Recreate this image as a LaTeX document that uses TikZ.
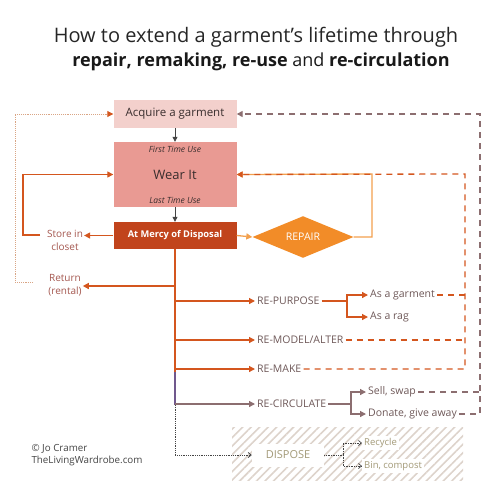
\documentclass[tikz,border=0pt]{standalone}
\usepackage{fontspec}
\setmainfont{Open Sans}
\usetikzlibrary{arrows.meta,shapes.geometric,patterns.meta}
\definecolor{acqfill}{HTML}{F3D0CC}
\definecolor{wearfill}{HTML}{E99A93}
\definecolor{mercyfill}{HTML}{C1441C}
\definecolor{repfill}{HTML}{F28C28}
\definecolor{redline}{HTML}{D4561E}
\definecolor{lorange}{HTML}{F2A04E}
\definecolor{mauve}{HTML}{8C6E70}
\definecolor{lbltext}{HTML}{6E5858}
\definecolor{storetext}{HTML}{A4574F}
\definecolor{boxtext}{HTML}{3A2E2E}
\definecolor{dotcol}{HTML}{D9A585}
\definecolor{hatchcol}{HTML}{DDD3CB}
\definecolor{disptext}{HTML}{A39A78}
\definecolor{darkgray}{HTML}{444444}
\tikzset{
  tip/.style={-{Triangle[length=6pt,width=6pt]}},
  mainbox/.style={draw=none, minimum width=123pt, text=boxtext, inner sep=0pt},
  lbl/.style={text=lbltext, font=\fontsize{10.5}{12}\selectfont, inner sep=2pt, anchor=west},
  sidelbl/.style={text=storetext, font=\fontsize{10}{13}\selectfont, align=center, inner sep=1pt},
  redln/.style={draw=redline, line width=1.3pt},
  mauveln/.style={draw=mauve, line width=1.3pt},
  reddash/.style={draw=redline, line width=1.3pt, dash pattern=on 6pt off 5pt},
  mauvedash/.style={draw=mauve, line width=1.3pt, dash pattern=on 6pt off 5pt},
  dispbox/.style={fill=white, text=disptext, inner sep=2pt},
}
\begin{document}
\begin{tikzpicture}[x=1pt,y=-1pt]
\useasboundingbox (0,0) rectangle (500,500);
% title
\node[text=black!85, font=\fontsize{20}{22}\selectfont] (t1) at (256,37) {How to extend a garment’s lifetime through};
\node[text=black!90, font=\fontsize{18}{22}\selectfont] (t2) at (261,62) {\textbf{repair, remaking, re-use} and \textbf{re-circulation}};
% main boxes
\node[mainbox, fill=acqfill, minimum height=28pt, font=\fontsize{11.5}{13}\selectfont] (acq) at (175,114) {Acquire a garment};
\node[mainbox, fill=wearfill, minimum height=65pt, font=\fontsize{13}{15}\selectfont] (wear) at (175,174.5) {Wear It};
\node[text=boxtext, font=\fontsize{8.5}{10}\selectfont\itshape] (ftu) at (175,149) {First Time Use};
\node[text=boxtext, font=\fontsize{8.5}{10}\selectfont\itshape] (ltu) at (175,200) {Last Time Use};
\node[mainbox, fill=mercyfill, text=white, minimum height=27pt, font=\fontsize{9.3}{11}\selectfont\bfseries] (mercy) at (175,235.5) {At Mercy of Disposal};
\node[shape=diamond, fill=repfill, text=white, minimum width=101pt, minimum height=31pt, inner sep=0pt, font=\fontsize{10.5}{12}\selectfont] (repair) at (303,237) {REPAIR};
% side labels
\node[sidelbl] (store) at (65,240) {Store in\\closet};
\node[sidelbl] (ret) at (65,285) {Return\\(rental)};
% branch labels
\node[lbl] (repurpose) at (255,301) {RE-PURPOSE};
\node[lbl] (remodel) at (255,340) {RE-MODEL/ALTER};
\node[lbl] (remake) at (255,369) {RE-MAKE};
\node[lbl] (recirc) at (255,404) {RE-CIRCULATE};
\node[lbl] (garment) at (368,295) {As a garment};
\node[lbl] (rag) at (368,317) {As a rag};
\node[lbl] (sell) at (366,392) {Sell, swap};
\node[lbl] (donate) at (366,414) {Donate, give away};
% coordinates
\coordinate (rv) at (465,174);
\coordinate (mv) at (480,114);
\coordinate (rep) at (372,174);
\coordinate (sl) at (40,235);
\coordinate (sc) at (23,235);
\coordinate (rl) at (33,282);
\coordinate (rc) at (15,282);
\coordinate (tr1) at (175,372);
\coordinate (tr2) at (175,405);
\coordinate (tr3) at (175,455);
\coordinate (f1) at (347,301);
\coordinate (f2) at (351,404);
\coordinate (f3) at (343,455);
% dispose area
\fill[pattern={Lines[angle=45,distance=6pt,line width=1.6pt]}, pattern color=hatchcol] (232,427) rectangle (463,480);
\node[dispbox, minimum width=72pt, minimum height=23pt, font=\fontsize{11}{12}\selectfont] (dispose) at (288,455) {DISPOSE};
\node[dispbox, anchor=west, font=\fontsize{9.5}{11}\selectfont] (recycle) at (362,443) {Recycle};
\node[dispbox, anchor=west, font=\fontsize{9.5}{11}\selectfont] (bin) at (362,466) {Bin, compost};
% vertical arrows
\draw[draw=darkgray, line width=0.8pt, -{Triangle[length=5pt,width=5pt]}] (acq.south) -- (wear.north);
\draw[draw=darkgray, line width=0.8pt, -{Triangle[length=5pt,width=5pt]}] (wear.south) -- (mercy.north);
% store / return
\draw[redln, tip] (mercy.west) -- (mercy.west -| store.east);
\draw[redln, tip] (sl) -- (sc) |- (wear.west);
\draw[redln, tip] (175,286) -- (ret.east |- 286,286);
\draw[draw=dotcol, line width=0.9pt, densely dotted, -{Triangle[length=6pt,width=6pt,color=redline]}] (rl) -- (rc) |- (acq.west);
% trunk
\draw[redln] (mercy.south) -- (tr1);
\draw[draw=mauve!80!blue, line width=1.3pt] (tr1) -- (tr2);
\draw[draw=darkgray, line width=0.8pt, densely dotted, -{Straight Barb[length=3pt,width=5pt]}] (tr2) -- (tr3) -- (dispose.west);
% branches
\draw[redln, tip] (repurpose.west -| mercy.south) -- (repurpose.west);
\draw[redln, tip] (remodel.west -| mercy.south) -- (remodel.west);
\draw[redln, tip] (remake.west -| mercy.south) -- (remake.west);
\draw[mauveln, tip] (recirc.west -| mercy.south) -- (recirc.west);
% forks
\draw[redln] (repurpose.east) -- (f1);
\draw[redln, tip] (f1) |- (garment.west);
\draw[redln, tip] (f1) |- (rag.west);
\draw[mauveln] (recirc.east) -- (f2);
\draw[mauveln, tip] (f2) |- (sell.west);
\draw[mauveln, tip] (f2) |- (donate.west);
\draw[draw=darkgray, line width=0.7pt, densely dotted] (dispose.east) -- (f3);
\draw[draw=darkgray, line width=0.7pt, densely dotted, -{Straight Barb[length=3pt,width=5pt]}] (f3) |- (recycle.west);
\draw[draw=darkgray, line width=0.7pt, densely dotted, -{Straight Barb[length=3pt,width=5pt]}] (f3) |- (bin.west);
% repair
\draw[draw=lorange, line width=1.3pt, tip] (mercy.east) -- (repair.west);
\draw[draw=lorange, line width=1.3pt, tip] (repair.east) -| (rep) -- (wear.east);
% red dashed return
\draw[reddash] (garment.east) -- (garment.east -| rv);
\draw[reddash] (remodel.east) -- (remodel.east -| rv);
\draw[reddash, tip] (remake.east) -| (rv) -- (wear.east);
% mauve dashed return
\draw[mauvedash] (sell.east) -- (sell.east -| mv);
\draw[mauvedash, tip] (donate.east) -| (mv) -- (acq.east);
% credit
\node[anchor=west, text=darkgray, font=\fontsize{9.8}{12}\selectfont, align=left] (credit) at (28,455) {© Jo Cramer\\TheLivingWardrobe.com};
\end{tikzpicture}
\end{document}
